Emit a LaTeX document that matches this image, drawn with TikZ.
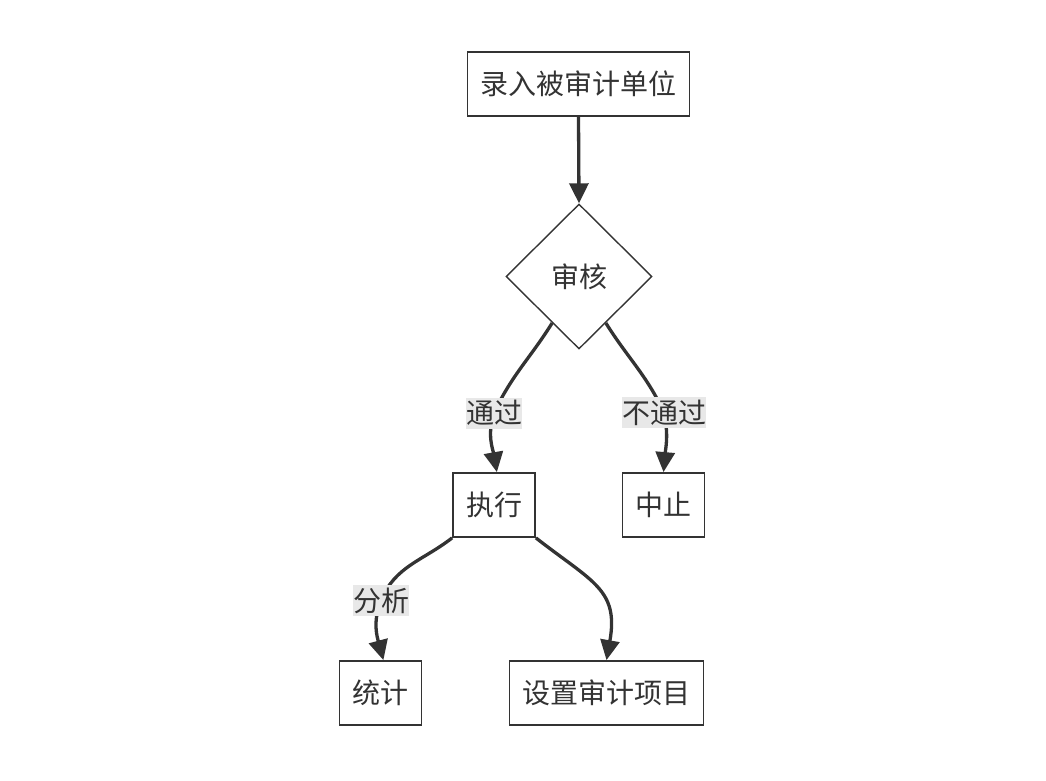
\documentclass[tikz,border=0pt]{standalone}
\usepackage{fontspec}
\newfontfamily\cjk{Noto Sans CJK SC}
\definecolor{ln}{HTML}{333333}
\definecolor{lg}{HTML}{E8E8E8}
\usetikzlibrary{arrows.meta}
\usetikzlibrary{shapes.geometric}
\tikzstyle{box}=[rectangle, draw=ln, line width=1.8pt, inner xsep=13pt, minimum height=64pt, text=ln]
\tikzstyle{decision}=[diamond, draw=ln, line width=1.4pt, inner sep=0pt, minimum width=146pt, minimum height=145pt, text=ln]
\tikzstyle{lbl}=[fill=lg, inner xsep=0pt, inner ysep=0pt, minimum height=31pt, text=ln]
\tikzstyle{edge}=[draw=ln, line width=3.3pt, -{Triangle[length=20pt, width=19pt]}]
\pgfdeclarelayer{bg}
\pgfsetlayers{bg,main}

\begin{document}
\begin{tikzpicture}[
    every node/.style={font=\cjk\fontsize{28}{34}\selectfont},
    x=1pt, y=1pt]

      \useasboundingbox (0,0) rectangle (1046,-781);

      \node[box] (luru) at (578.5,-84) {录入被审计单位};
      \node[decision] (shenhe) at (579,-276.5) {审核};

      \node[lbl] (tongguo) at (494,-413) {通过};
      \node[lbl] (butongguo) at (664,-412.5) {不通过};

      \node[box] (zhixing) at (494,-505) {执行};
      \node[box] (zhongzhi) at (663.5,-505) {中止};

      \node[lbl] (fenxi) at (381,-600.5) {分析};

      \node[box] (tongji) at (380.5,-693) {统计};
      \node[box] (shezhi) at (606.5,-693) {设置审计项目};

      \begin{pgfonlayer}{bg}
      \draw[edge] (luru.south) -- (shenhe.north);

      % shenhe
      \draw[edge] (shenhe.-120) to[out=-122, in=65] (tongguo.center)
        to[out=-108, in=100] (zhixing.85);
      \draw[edge] (shenhe.-60) to[out=-58, in=115] (butongguo.center)
        to[out=-78, in=85] (zhongzhi.north);

      % zhixing
      \draw[edge] (zhixing.south west) to[out=-142, in=68] (fenxi.center)
        to[out=-112, in=105] (tongji.85);
      \draw[edge] (zhixing.south east) to[out=-38, in=80, looseness=1.3] (shezhi.north);
      \end{pgfonlayer}

    \end{tikzpicture}
\end{document}
